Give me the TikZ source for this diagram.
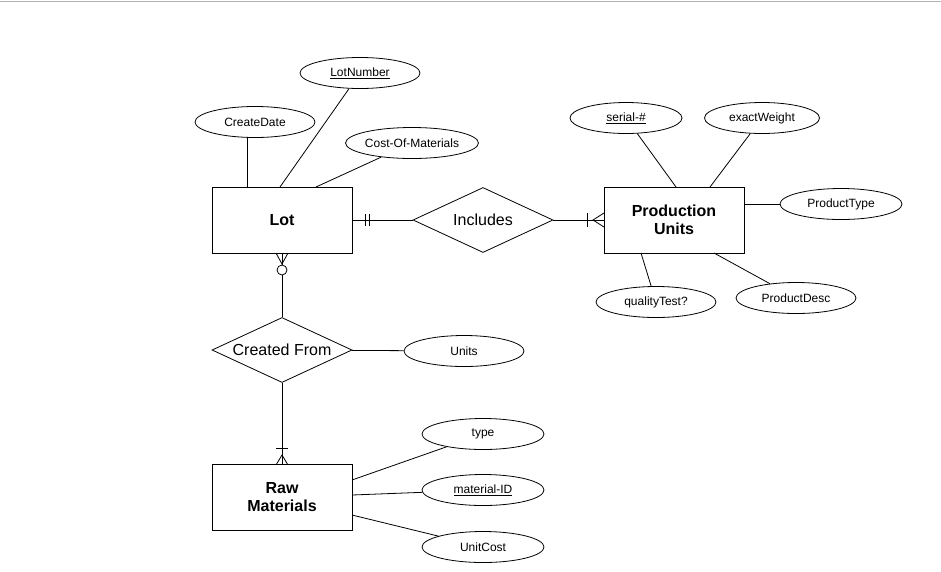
\documentclass[tikz,border=0pt]{standalone}
\usepackage{fontspec}
\setmainfont{Liberation Sans}
\usetikzlibrary{shapes.geometric}
\begin{document}
\begin{tikzpicture}[x=1pt,y=-1pt,line width=0.8pt,
  ent/.style={draw,minimum width=140pt,minimum height=66pt,font=\fontsize{16}{18}\selectfont\bfseries,align=center,inner sep=0},
  rel/.style={draw,diamond,minimum width=140pt,minimum height=65pt,aspect=2.15,inner sep=0,font=\fontsize{16}{18}\selectfont},
  att/.style={draw,ellipse,minimum width=120pt,minimum height=31pt,inner sep=0,font=\fontsize{12}{14}\selectfont}]
\useasboundingbox (0,0) rectangle (941,571);
\draw[gray!60] (0,1) -- (941,1);
\node[ent] (lot) at (282,220) {Lot};
\node[ent] (pu) at (674,220) {Production\\Units};
\node[ent] (rm) at (282,497) {Raw\\Materials};
\node[rel] (inc) at (483,220) {Includes};
\node[rel] (cf) at (282,350) {Created From};
\node[att] (ln) at (360,73) {\underline{LotNumber}};
\node[att] (cd) at (255,122) {CreateDate};
\node[att,minimum width=124pt] (com) at (412,143) {Cost-Of-Materials};
\node[att,minimum width=112pt] (ser) at (626,118) {\underline{serial-\#}};
\node[att,minimum width=115pt] (ew) at (762,118) {exactWeight};
\node[att,minimum width=122pt] (pt) at (841,204) {ProductType};
\node[att] (pd) at (796,298) {ProductDesc};
\node[att] (qt) at (656,302) {qualityTest?};
\node[att] (un) at (464,351) {Units};
\node[att,minimum width=122pt] (ty) at (483,434) {type};
\node[att,minimum width=122pt] (mid) at (483,490) {\underline{material-ID}};
\node[att,minimum width=122pt] (uc) at (483,547) {UnitCost};
% attribute links
\draw (247,137) -- (247,187);
\draw (ln) -- (280,187);
\draw (com) -- (316,187);
\draw (ser) -- (676,187);
\draw (ew) -- (710,187);
\draw (pu.east |- pt) -- (pt);
\draw (714,253) -- (pd);
\draw (641,253) -- (qt);
\draw (cf) -- (un);
\draw (352,480) -- (ty);
\draw (352,495) -- (mid);
\draw (352,515) -- (uc);
% relationships
\draw (lot) -- (inc);
\draw (365,214) -- (365,226) (369,214) -- (369,226);
\draw (inc) -- (pu);
\draw (587,213) -- (587,227);
\draw (604,213) -- (593,220) -- (604,227);
\coordinate (lc) at (282,270);
\draw (lot) -- (282,265);
\draw (276,253) -- (282,264) -- (288,253);
\draw[fill=white] (lc) circle (5);
\draw (282,275) -- (cf);
\draw (cf) -- (rm);
\draw (276,448) -- (288,448);
\draw (276,465) -- (282,455) -- (288,465);
\end{tikzpicture}
\end{document}
